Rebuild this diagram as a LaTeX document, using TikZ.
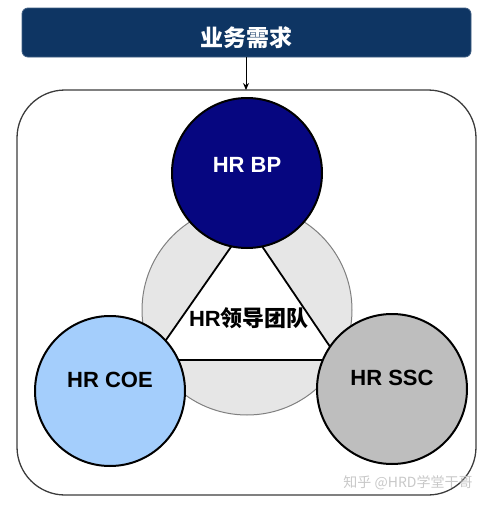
\documentclass[tikz,border=0pt]{standalone}
\usepackage{fontspec}
\setmainfont{Liberation Sans}
\newfontfamily\cjk{Noto Sans CJK SC}
\usetikzlibrary{arrows.meta}
\definecolor{bannerblue}{HTML}{0E3563}
\definecolor{bpblue}{HTML}{060680}
\definecolor{coeblue}{HTML}{A4CEFC}
\definecolor{sscgrey}{HTML}{BEBEBE}
\definecolor{ringgrey}{HTML}{E6E6E6}
\definecolor{framegrey}{HTML}{3C3C3C}
\definecolor{wmgrey}{HTML}{C8C8C8}
\tikzset{
  hrcircle/.style={circle, draw=black, line width=2pt, minimum size=150pt, inner sep=0pt},
  lbl/.style={inner sep=0pt},
  hrtext/.style={inner sep=0pt, font=\fontsize{22}{24}\selectfont\bfseries}
}
\begin{document}
\begin{tikzpicture}[x=1pt,y=-1pt]
\useasboundingbox (0,0) rectangle (486,506);
% banner
\node[fill=bannerblue, draw=bannerblue!80!white, line width=0.8pt, rounded corners=6pt, minimum width=449pt, minimum height=49pt, inner sep=0pt] (banner) at (246.5,32.5) {};
\node[lbl, text=white, font=\cjk\bfseries\fontsize{23}{25}\selectfont] (bannertxt) at (246,38) {业务需求};
% frame
\node[draw=framegrey, line width=1.3pt, rounded corners=48pt, minimum width=459pt, minimum height=405pt, inner sep=0pt] (frame) at (246.5,292.5) {};
\coordinate (arrowtop) at (246,57);
\coordinate (arrowend) at (246,90);
\draw[line width=1pt, -{Stealth[length=7pt,width=6pt]}] (arrowtop) -- (arrowend);
% ring
\node[circle, fill=ringgrey, draw=gray, line width=1pt, minimum size=210pt, inner sep=0pt] (ring) at (247,310) {};
% triangle
\coordinate (t1) at (247,224);
\coordinate (t2) at (152,360);
\coordinate (t3) at (339,360);
\draw[fill=white, line width=1.8pt] (t1) -- (t2) -- (t3) -- cycle;
\node[hrtext] (lead) at (249,318) {HR{\cjk 领导团队}};
% circles
\node[hrcircle, fill=bpblue] (bp) at (247,173) {};
\node[hrtext, text=white] (bptxt) at (247,165) {HR BP};
\node[hrcircle, fill=coeblue] (coe) at (110,391) {};
\node[hrtext] (coetxt) at (110,380) {HR COE};
\node[hrcircle, fill=sscgrey] (ssc) at (392,389) {};
\node[hrtext] (ssctxt) at (392,378) {HR SSC};
% watermark
\node[lbl, text=wmgrey, font=\cjk\fontsize{14}{16}\selectfont] (wm) at (408,483) {知乎 @HRD学堂干哥};
\end{tikzpicture}
\end{document}
